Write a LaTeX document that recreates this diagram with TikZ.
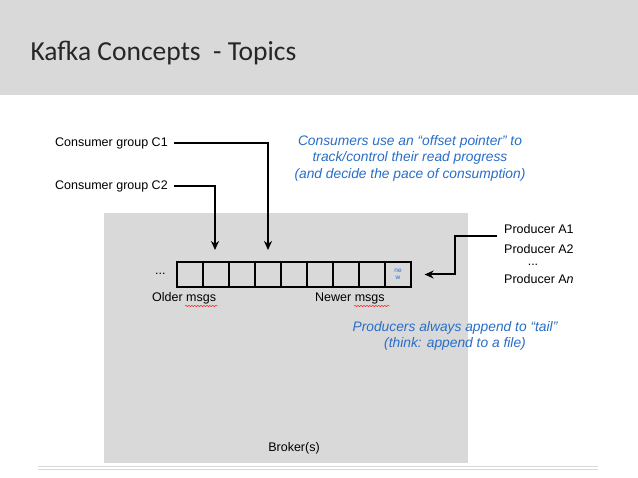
\documentclass[tikz,border=0pt]{standalone}
\usepackage{fontspec}
\setmainfont{Liberation Sans}
\newfontfamily\titlefont{Carlito}
\usetikzlibrary{arrows.meta,decorations.pathmorphing}
\definecolor{hdr}{RGB}{217,217,217}
\definecolor{brk}{RGB}{217,217,217}
\definecolor{blu}{RGB}{40,110,200}
\tikzset{x=1pt,y=-1pt,
 lbl/.style={font=\fontsize{12.5}{14}\selectfont,inner sep=0pt},
 note/.style={font=\fontsize{13.8}{16.5}\selectfont\itshape,text=blu,align=center,inner sep=0pt},
 cell/.style={draw,line width=1.3pt,minimum width=26pt,minimum height=25pt,inner sep=0pt},
 arr/.style={line width=2pt,-{Stealth[length=9pt,width=8pt]}},
 squig/.style={red,line width=0.4pt,decorate,decoration={snake,amplitude=0.6pt,segment length=3pt}}}
\begin{document}
\begin{tikzpicture}
\useasboundingbox (0,0) rectangle (638,478);
\fill[white] (0,0) rectangle (638,478);
\fill[hdr] (0,0) rectangle (638,95);
\node[anchor=west,font=\titlefont\fontsize{27.5}{30}\selectfont,text=black!85] (title) at (27,53) {Kafka Concepts\ \ - Topics};
\fill[brk] (104,213) rectangle (468,463);
\draw[black!15,line width=0.8pt] (38,466) -- (598,466);
\draw[black!15,line width=0.8pt] (38,469) -- (598,469);
% cells
\foreach \i in {0,...,8}{\node[cell] (c\i) at (190+\i*26,274.5) {};}
\node[font=\fontsize{6.5}{7}\selectfont,text=blu,align=center] at (c8) {ne\\w};
\node[lbl,anchor=west] (dots) at (155,274) {...};
\node[lbl,anchor=west] (older) at (152,298) {Older msgs};
\node[lbl,anchor=west] (newer) at (315,298) {Newer msgs};
\draw[squig] (185,306) -- (218,306);
\draw[squig] (354,306) -- (390,306);
\node[lbl,anchor=west] (c1) at (55,143) {Consumer group C1};
\node[lbl,anchor=west] (c2) at (55,186) {Consumer group C2};
\node[note] (n1) at (410,158) {Consumers use an “offset pointer” to\\track/control their read progress\\(and decide the pace of consumption)};
\node[note] (n2) at (455,336) {Producers always append to “tail”\\(think: append to a file)};
\node[lbl,anchor=west] (pa1) at (504,229) {Producer A1};
\node[lbl,anchor=west] (pa2) at (504,249) {Producer A2};
\node[lbl,anchor=south] (pd) at (533,266) {...};
\node[lbl,anchor=west] (pan) at (504,279) {Producer A\textit{n}};
\node[lbl] (broker) at (294,448) {Broker(s)};
\coordinate (t1) at (268,250);
\coordinate (t2) at (215,250);
\draw[arr] (c1.east)++(6,0) -| (t1);
\draw[arr] (c2.east)++(6,0) -| (t2);
\draw[arr] (497,236) -- (455,236) |- ([xshift=13pt]c8.east);
\end{tikzpicture}
\end{document}
